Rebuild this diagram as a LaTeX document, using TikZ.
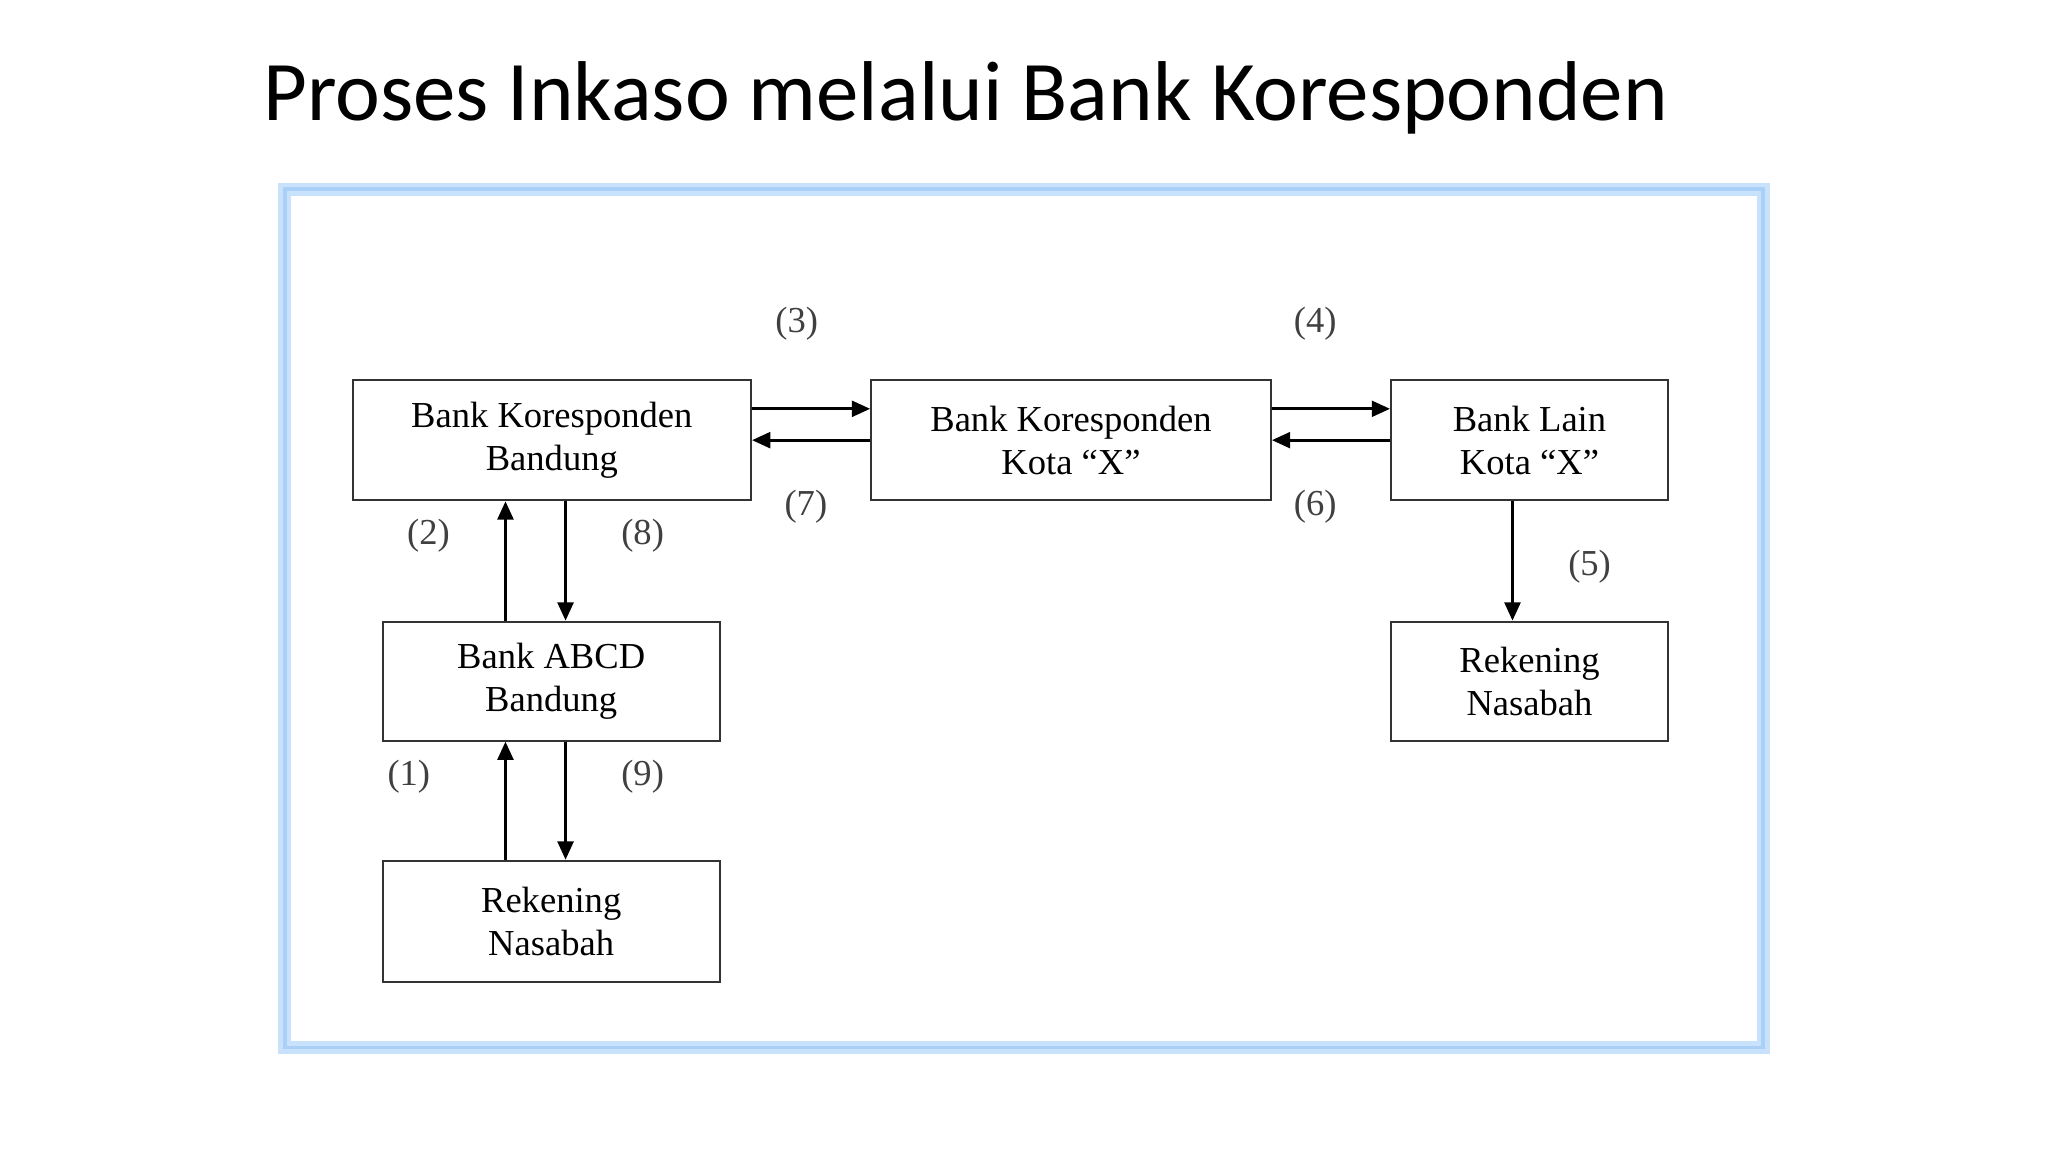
\documentclass[tikz,border=0pt]{standalone}
\usepackage{fontspec}
\setmainfont{Liberation Serif}
\newfontfamily\titlefont{Carlito}
\usetikzlibrary{arrows.meta}
\definecolor{glow}{RGB}{200,226,252}
\definecolor{edge}{RGB}{170,208,248}
\begin{document}
\begin{tikzpicture}[x=1pt,y=-1pt,
  bx/.style={draw=black!80,line width=1.5pt,fill=white,inner sep=0pt,align=center,font=\fontsize{28}{33}\selectfont},
  lbl/.style={font=\fontsize{28}{33}\selectfont,text=black!75},
  arr/.style={draw=black,line width=2.5pt,-{Triangle[length=14pt,width=12pt]}}]
\useasboundingbox (0,0) rectangle (1568,882);
\fill[white] (0,0) rectangle (1568,882);
\node[anchor=west,font=\titlefont\fontsize{65}{70}\selectfont] (title) at (198,75) {Proses Inkaso melalui Bank Koresponden};
\draw[draw=glow,line width=10pt] (218,145) rectangle (1350,802);
\draw[draw=edge,line width=3pt] (218,145) rectangle (1350,802);
\node[bx,minimum width=305pt,minimum height=92pt] (A) at (422.5,337) {Bank Koresponden\\Bandung};
\node[bx,minimum width=306pt,minimum height=92pt] (B) at (820,337) {Bank Koresponden\\Kota “X”};
\node[bx,minimum width=212pt,minimum height=92pt] (C) at (1171,337) {Bank Lain\\Kota “X”};
\node[bx,minimum width=258pt,minimum height=91pt] (D) at (422,521.5) {Bank ABCD\\Bandung};
\node[bx,minimum width=258pt,minimum height=93pt] (E) at (422,705.5) {Rekening\\Nasabah};
\node[bx,minimum width=212pt,minimum height=91pt] (F) at (1171,521.5) {Rekening\\Nasabah};
\draw[arr] (A.east|-0,313) -- (B.west|-0,313);
\draw[arr] (B.west|-0,337) -- (A.east|-0,337);
\draw[arr] (B.east|-0,313) -- (C.west|-0,313);
\draw[arr] (C.west|-0,337) -- (B.east|-0,337);
\draw[arr] (A.south-|433,0) -- (D.north-|433,0);
\draw[arr] (D.north-|387,0) -- (A.south-|387,0);
\draw[arr] (E.north-|387,0) -- (D.south-|387,0);
\draw[arr] (D.south-|433,0) -- (E.north-|433,0);
\draw[arr] (C.south-|1158,0) -- (F.north-|1158,0);
\node[lbl] (l3) at (610,248) {(3)};
\node[lbl] (l4) at (1007,248) {(4)};
\node[lbl] (l7) at (617,388) {(7)};
\node[lbl] (l6) at (1007,388) {(6)};
\node[lbl] (l2) at (328,410) {(2)};
\node[lbl] (l8) at (492,410) {(8)};
\node[lbl] (l5) at (1217,434) {(5)};
\node[lbl] (l1) at (313,595) {(1)};
\node[lbl] (l9) at (492,595) {(9)};
\end{tikzpicture}
\end{document}
